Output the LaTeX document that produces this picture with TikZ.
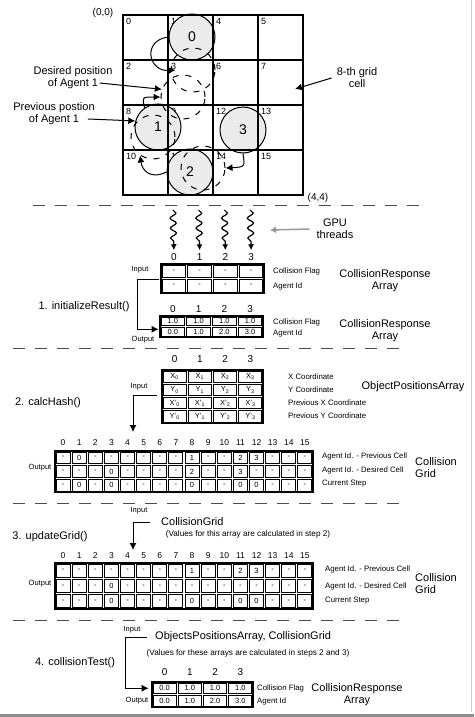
\documentclass[tikz,border=0pt]{standalone}
\usepackage{fontspec}
\setmainfont{Liberation Sans}
\usetikzlibrary{arrows.meta,positioning,calc,decorations.pathmorphing}

\begin{document}
\begin{tikzpicture}[
  x=1pt, y=-1pt,
  font=\fontsize{11}{12}\selectfont,
  >=Latex,
  arrow/.style={-{Latex[length=7pt,width=7pt]}, draw=black, line width=1pt},
  thread/.style={-{Latex[length=6pt,width=6pt]}, draw=black, line width=1.2pt, decorate,
    decoration={snake, amplitude=3pt, segment length=10pt, post length=6pt}},
  hint/.style={-{Latex[length=6pt,width=7pt]}, draw=black!40, line width=1.5pt},
  sepline/.style={draw=black!70, line width=1pt, dash pattern=on 12pt off 10pt},
  gridline/.style={draw=black, line width=1.2pt},
  cellnum/.style={anchor=north west, inner sep=0pt, font=\fontsize{9}{9}\selectfont},
  agent/.style={circle, draw=black, fill=black!8, line width=1pt, minimum size=46pt,
    inner sep=0pt, font=\fontsize{14}{14}\selectfont},
  ghost/.style={circle, draw=black, line width=1pt, dash pattern=on 6pt off 7pt,
    minimum size=44pt, inner sep=0pt},
  note/.style={inner sep=0pt, align=center},
  remark/.style={inner sep=0pt, font=\fontsize{8.2}{9}\selectfont},
  io/.style={inner sep=0pt, font=\fontsize{7.5}{8}\selectfont},
  side/.style={anchor=west, inner sep=0pt, font=\fontsize{7.8}{8}\selectfont},
  hdr/.style={inner sep=0pt, font=\fontsize{10}{10}\selectfont},
  hdrs/.style={inner sep=0pt, font=\fontsize{8.5}{8.5}\selectfont},
  cell/.style={draw=black, line width=0.9pt, inner sep=0pt, font=\fontsize{7.5}{7.5}\selectfont},
  tblframe/.style={draw=black, line width=1.4pt}
]

\useasboundingbox (0,0) rectangle (474,717);

% Agent grid: cell numbers, agents, grid lines
\foreach \n/\c/\r in {0/0/0,1/1/0,4/2/0,5/3/0,2/0/1,3/1/1,6/2/1,7/3/1,
    8/0/2,9/1/2,12/2/2,13/3/2,10/0/3,11/1/3,14/2/3,15/3/3}
  \node[cellnum] (g\n) at ({126+45*\c},{18+45*\r}) {\n};

\node[agent] (ag0) at (192,37) {0};
\node[agent] (ag1) at (158,127) {1};
\node[agent] (ag3) at (243,130) {3};
\node[agent] (ag2) at (190,172) {2};

\draw[gridline] (123,15) rectangle (303,195);
\foreach \k in {1,2,3} {
  \draw[gridline] ({123+45*\k},15) -- ({123+45*\k},195);
  \draw[gridline] (123,{15+45*\k}) -- (303,{15+45*\k});
}

% Desired positions (dashed) and moves
\node[ghost] (des0) at (193,70) {};
\node[ghost] (des1) at (183,97) {};
\node[ghost] (des2) at (153,137) {};
\node[ghost] (des3) at (203,168) {};

\draw[arrow] (ag0.west) .. controls (142,40) and (148,72) .. ([xshift=5pt]des0.west);
\draw[arrow] (ag1.125) .. controls (142,97) .. (des1.west);
\draw[arrow] (ag2.west) .. controls (150,180) and (142,170) .. (des2.235);
\draw[arrow] (ag3.south) .. controls (245,167) .. (des3.east);

\node[note] at (103,13) [font=\fontsize{10}{10}\selectfont] (org) {(0,0)};
\node[note] at (318,198) [font=\fontsize{10}{10}\selectfont] (corner) {(4,4)};

\node[note] (desLbl) at (73,78) {Desired position\\of Agent 1};
\node[note] (prevLbl) at (54,114) {Previous postion\\of Agent 1};
\node[note] (cellLbl) at (357,78) {8-th grid\\cell};
\coordinate (c7) at (295,89);

\draw[arrow] ([xshift=-13pt,yshift=-5pt]desLbl.east) -- (des1.160);
\draw[arrow] ([xshift=-7pt,yshift=-5pt]prevLbl.east) -- (ag1.165);
\draw[arrow] ([xshift=-5pt]cellLbl.west) -- (c7);

\draw[sepline] (33,205) -- (427,205);

% GPU threads
\node[note] (gpu) at (335,229) {GPU\\threads};
\coordinate (gpuTip) at (270,230);
\draw[hint] ([xshift=-7pt]gpu.west) -- (gpuTip);

% 1. initializeResult()
\node[note] (s1) at (84,307) {1. initializeResult()};

\foreach \c in {0,...,3}
  \node[hdr] (crInH-\c) at ({161+25.75*(\c+0.5)},257) {\c};
\foreach \r/\vals in {0/{-,-,-,-},1/{-,-,-,-}}
  \foreach \v [count=\c from 0] in \vals
    \node[cell, minimum width=23.5pt, minimum height=12.5pt] (crIn-\r-\c)
      at ({161+25.75*(\c+0.5)},{264+14.5*(\r+0.5)}) {\v};
\draw[tblframe] ([shift={(-0.6,-0.6)}]crIn-0-0.north west) rectangle ([shift={(0.6,0.6)}]crIn-1-3.south east);

\foreach \c in {0,...,3} {
  \coordinate (thr\c) at ({161+25.75*(\c+0.5)-1},210);
  \draw[thread] (thr\c) -- ([yshift=3pt]crInH-\c.north);
}

\node[io] (in1) at (140,270) {Input};
\node[side] (cf1) at (273,271) {Collision Flag};
\node[side] (ai1) at (273,286) {Agent Id};
\node[note] (crInName) at (385,281) {CollisionResponse\\Array};

\foreach \c in {0,...,3}
  \node[hdr] (crOutH-\c) at ({160+25.75*(\c+0.5)},309) {\c};
\foreach \r/\vals in {0/{1.0,1.0,1.0,1.0},1/{0.0,1.0,2.0,3.0}}
  \foreach \v [count=\c from 0] in \vals
    \node[cell, minimum width=23.5pt, minimum height=8.6pt] (crOut-\r-\c)
      at ({160+25.75*(\c+0.5)},{316+10.5*(\r+0.5)}) {\v};
\draw[tblframe] ([shift={(-0.6,-0.6)}]crOut-0-0.north west) rectangle ([shift={(0.6,0.6)}]crOut-1-3.south east);

\node[io] (out1) at (143,340) {Output};
\node[side] (cf1b) at (273,322) {Collision Flag};
\node[side] (ai1b) at (273,333) {Agent Id};
\node[note] (crOutName) at (385,331) {CollisionResponse\\Array};

\draw[arrow] ([xshift=-3pt]crIn-1-0.north west) -- ++(-21,0) |- ([xshift=-2pt,yshift=2.5pt]crOut-1-0.west);

\draw[sepline] (13,348) -- (407,348);

% 2. calcHash()
\node[note] (s2) at (48,403) {2. calcHash()};

\foreach \c in {0,...,3}
  \node[hdr] (posH-\c) at ({162+25.25*(\c+0.5)},359) {\c};
\foreach \r/\lab in {0/X,1/Y,2/X',3/Y'}
  \foreach \c in {0,...,3}
    \node[cell, minimum width=23pt, minimum height=11.3pt] (pos-\r-\c)
      at ({162+25.25*(\c+0.5)},{370+13.25*(\r+0.5)}) {\lab\textsubscript{\c}};
\draw[tblframe] ([shift={(-0.6,-0.6)}]pos-0-0.north west) rectangle ([shift={(0.6,0.6)}]pos-3-3.south east);

\node[io] (in2) at (139,387) {Input};
\node[side] (xc) at (288,377) {X Coordinate};
\node[side] (yc) at (288,390) {Y Coordinate};
\node[side] (pxc) at (288,403) {Previous X Coordinate};
\node[side] (pyc) at (288,416) {Previous Y Coordinate};
\node[note] (posName) at (413,387) {ObjectPositionsArray};

\coordinate (hashTip) at (133,432);
\draw[arrow] ([xshift=-6pt]pos-1-0.south west) -| (hashTip);

\foreach \c in {0,...,15}
  \node[hdrs] (hashH-\c) at ({55+16.125*(\c+0.5)},443) {\c};
\foreach \r/\vals in {0/{-,0,-,-,-,-,-,-,1,-,-,2,3,-,-,-},1/{-,-,-,0,-,-,-,-,2,-,-,3,-,-,-,-},2/{-,0,-,0,-,-,-,-,0,-,-,0,0,-,-,-}}
  \foreach \v [count=\c from 0] in \vals
    \node[cell, minimum width=14pt, minimum height=11.6pt] (hash-\r-\c)
      at ({55+16.125*(\c+0.5)},{451+13.67*(\r+0.5)}) {\v};
\draw[tblframe] ([shift={(-0.6,-0.6)}]hash-0-0.north west) rectangle ([shift={(0.6,0.6)}]hash-2-15.south east);

\node[io] (out2) at (40,468) {Output};
\node[side] (prev2) at (322,456) {Agent Id. - Previous Cell};
\node[side] (desi2) at (322,470) {Agent Id. - Desired Cell};
\node[side] (cur2) at (322,484) {Current Step};
\node[note, anchor=west, align=left] (hashName) at (415,468) {Collision\\Grid};

\draw[sepline] (13,503) -- (405,503);

% 3. updateGrid()
\node[note] (s3) at (50,537) {3. updateGrid()};
\node[io] (in3) at (139,511) {Input};
\node[note, anchor=west] (ugIn) at (161,522) {CollisionGrid};
\node[remark] (ugNote) at (248,534) {(Values for this array are calculated in step 2)};

\coordinate (updTip) at (133,550);
\draw[arrow] ([xshift=-11pt]ugIn.west) -| (updTip);

\foreach \c in {0,...,15}
  \node[hdrs] (updH-\c) at ({55+16.125*(\c+0.5)},556) {\c};
\foreach \r/\vals in {0/{-,-,-,-,-,-,-,-,1,-,-,2,3,-,-,-},1/{-,-,-,0,-,-,-,-,-,-,-,-,-,-,-,-},2/{-,-,-,0,-,-,-,-,0,-,-,0,0,-,-,-}}
  \foreach \v [count=\c from 0] in \vals
    \node[cell, minimum width=14pt, minimum height=13.2pt] (upd-\r-\c)
      at ({55+16.125*(\c+0.5)},{563+15.33*(\r+0.5)}) {\v};
\draw[tblframe] ([shift={(-0.6,-0.6)}]upd-0-0.north west) rectangle ([shift={(0.6,0.6)}]upd-2-15.south east);

\node[io] (out3) at (40,584) {Output};
\node[side] (prev3) at (325,569) {Agent Id. - Previous Cell};
\node[side] (desi3) at (325,586) {Agent Id. - Desired Cell};
\node[side] (cur3) at (325,601) {Current Step};
\node[note, anchor=west, align=left] (updName) at (415,584) {Collision\\Grid};

\draw[sepline] (13,620) -- (405,620);

% 4. collisionTest()
\node[note] (s4) at (75,663) {4. collisionTest()};
\node[io] (in4) at (132,630) {Input};
\node[note, anchor=west] (ctIn) at (155,637) {ObjectsPositionsArray, CollisionGrid};
\node[remark] (ctNote) at (248,653) {(Values for these arrays are calculated in steps 2 and 3)};

\foreach \c in {0,...,3}
  \node[hdr] (resH-\c) at ({152+25.25*(\c+0.5)},672) {\c};
\foreach \r/\vals in {0/{0.0,1.0,1.0,1.0},1/{0.0,1.0,2.0,3.0}}
  \foreach \v [count=\c from 0] in \vals
    \node[cell, minimum width=23pt, minimum height=10.5pt] (res-\r-\c)
      at ({152+25.25*(\c+0.5)},{682+12.5*(\r+0.5)}) {\v};
\draw[tblframe] ([shift={(-0.6,-0.6)}]res-0-0.north west) rectangle ([shift={(0.6,0.6)}]res-1-3.south east);

\node[io] (out4) at (137,701) {Output};
\node[side] (cf4) at (257,688) {Collision Flag};
\node[side] (ai4) at (257,701) {Agent Id};
\node[note] (resName) at (357,695) {CollisionResponse\\Array};

\draw[arrow] ([xshift=-8pt]ctIn.west) -- ++(-22,0) |- ([xshift=-4pt]res-0-0.west);

% scan edges
\draw[black!20, line width=1pt] (471,0) -- (471,712);
\draw[black!45, line width=3pt] (0,715.5) -- (474,715.5);

\end{tikzpicture}
\end{document}
